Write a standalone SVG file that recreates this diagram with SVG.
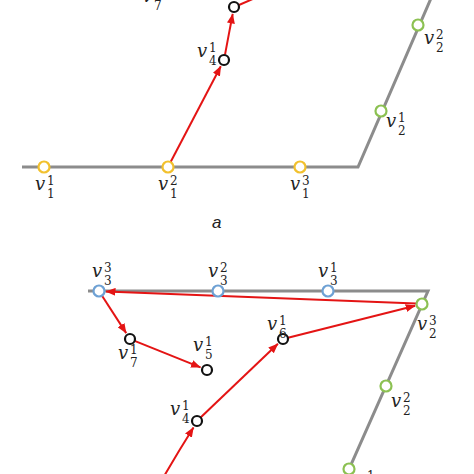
<svg xmlns="http://www.w3.org/2000/svg" width="474" height="474" viewBox="0 0 474 474">
<defs>
<marker id="ah" markerUnits="userSpaceOnUse" markerWidth="10" markerHeight="8" refX="9.5" refY="4" orient="auto">
<path d="M0,0 L10,4 L0,8 z" fill="#e41414"/>
</marker>
<style>
.road{fill:none;stroke:#8c8c8c;stroke-width:3}
.arr{fill:none;stroke:#e41414;stroke-width:2;marker-end:url(#ah)}
.red{fill:none;stroke:#e41414;stroke-width:2}
.ny{fill:#fff;stroke:#f2c12e;stroke-width:2.2}
.ng{fill:#fff;stroke:#8cc152;stroke-width:2.2}
.nb{fill:#fff;stroke:#6ea1d4;stroke-width:2.2}
.nk{fill:#fff;stroke:#111;stroke-width:2.2}
.v{font-family:"DejaVu Serif",serif;font-style:italic;font-size:18px;fill:#222}
.s{font-family:"DejaVu Serif",serif;font-size:12px;fill:#222}
.cap{font-family:"Liberation Sans",Arial,sans-serif;font-style:italic;font-size:17px;fill:#222}
</style>
</defs>

<!-- roads -->
<g id="roads">
<polyline class="road" points="22,167 358,167 432,-4"/>
<polyline class="road" points="88,291 428,291 346,476"/>
</g>

<!-- connectors -->
<g id="connectors">
<line class="arr" x1="168" y1="167" x2="220.8" y2="66.2"/>
<line class="arr" x1="225" y1="54.6" x2="232.7" y2="13.9"/>
<line class="red" x1="239" y1="5" x2="255" y2="-2"/>
<line class="arr" x1="416" y1="303.5" x2="106" y2="291.5"/>
<line class="arr" x1="288" y1="337.8" x2="415.2" y2="305.7"/>
<line class="arr" x1="101.7" y1="295.2" x2="126.2" y2="333.1"/>
<line class="arr" x1="134.6" y1="340.9" x2="200.5" y2="367.4"/>
<line class="arr" x1="200.6" y1="417.5" x2="277.9" y2="343.8"/>
<path class="arr" d="M163,478 Q178,452 193.5,427.5"/>
</g>

<!-- panel a nodes -->
<g id="a_v1_1"><circle class="ny" cx="44" cy="167" r="5.5"/><text class="v" x="35" y="190">v</text><text class="s" x="47" y="185">1</text><text class="s" x="47" y="198">1</text></g>
<g id="a_v1_2"><circle class="ny" cx="168" cy="167" r="5.5"/><text class="v" x="158" y="190">v</text><text class="s" x="170" y="185">2</text><text class="s" x="170" y="198">1</text></g>
<g id="a_v1_3"><circle class="ny" cx="300" cy="167" r="5.5"/><text class="v" x="290" y="190">v</text><text class="s" x="302" y="185">3</text><text class="s" x="302" y="198">1</text></g>
<g id="a_v2_1"><circle class="ng" cx="381" cy="111" r="5.5"/><text class="v" x="386" y="126.5">v</text><text class="s" x="398" y="121.5">1</text><text class="s" x="398" y="134.5">2</text></g>
<g id="a_v2_2"><circle class="ng" cx="418" cy="25" r="5.5"/><text class="v" x="424" y="44">v</text><text class="s" x="436" y="39">2</text><text class="s" x="436" y="52">2</text></g>
<g id="a_v4_1"><circle class="nk" cx="224" cy="60" r="5"/><text class="v" x="197" y="56.5">v</text><text class="s" x="209" y="51.5">1</text><text class="s" x="209" y="64.5">4</text></g>
<g id="a_v6_1"><circle class="nk" cx="234" cy="7" r="5"/></g>
<g id="a_v7_1"><text class="v" x="142" y="2">v</text><text class="s" x="154" y="-3">1</text><text class="s" x="154" y="10">7</text></g>
<text class="cap" x="212" y="228">a</text>

<!-- panel b nodes -->
<g id="b_v3_3"><circle class="nb" cx="99" cy="291" r="5.5"/><text class="v" x="92" y="276.5">v</text><text class="s" x="104" y="271.5">3</text><text class="s" x="104" y="284.5">3</text></g>
<g id="b_v3_2"><circle class="nb" cx="218" cy="291" r="5.5"/><text class="v" x="208" y="276.5">v</text><text class="s" x="220" y="271.5">2</text><text class="s" x="220" y="284.5">3</text></g>
<g id="b_v3_1"><circle class="nb" cx="328" cy="291" r="5.5"/><text class="v" x="318" y="276.5">v</text><text class="s" x="330" y="271.5">1</text><text class="s" x="330" y="284.5">3</text></g>
<g id="b_v2_3"><circle class="ng" cx="422" cy="304" r="5.5"/><text class="v" x="417" y="329.5">v</text><text class="s" x="429" y="324.5">3</text><text class="s" x="429" y="337.5">2</text></g>
<g id="b_v2_2"><circle class="ng" cx="386" cy="386" r="5.5"/><text class="v" x="391" y="406.5">v</text><text class="s" x="403" y="401.5">2</text><text class="s" x="403" y="414.5">2</text></g>
<g id="b_v2_1"><circle class="ng" cx="349" cy="469" r="5.5"/><text class="v" x="355" y="484.5">v</text><text class="s" x="367" y="479.5">1</text><text class="s" x="367" y="492.5">2</text></g>
<g id="b_v6_1"><circle class="nk" cx="283" cy="339" r="5"/><text class="v" x="267" y="329.5">v</text><text class="s" x="279" y="324.5">1</text><text class="s" x="279" y="337.5">6</text></g>
<g id="b_v7_1"><circle class="nk" cx="130" cy="339" r="5"/><text class="v" x="118" y="358.5">v</text><text class="s" x="130" y="353.5">1</text><text class="s" x="130" y="366.5">7</text></g>
<g id="b_v5_1"><circle class="nk" cx="207" cy="370" r="5"/><text class="v" x="193" y="350.5">v</text><text class="s" x="205" y="345.5">1</text><text class="s" x="205" y="358.5">5</text></g>
<g id="b_v4_1"><circle class="nk" cx="197" cy="421" r="5"/><text class="v" x="170" y="415">v</text><text class="s" x="182" y="410">1</text><text class="s" x="182" y="423">4</text></g>
</svg>
